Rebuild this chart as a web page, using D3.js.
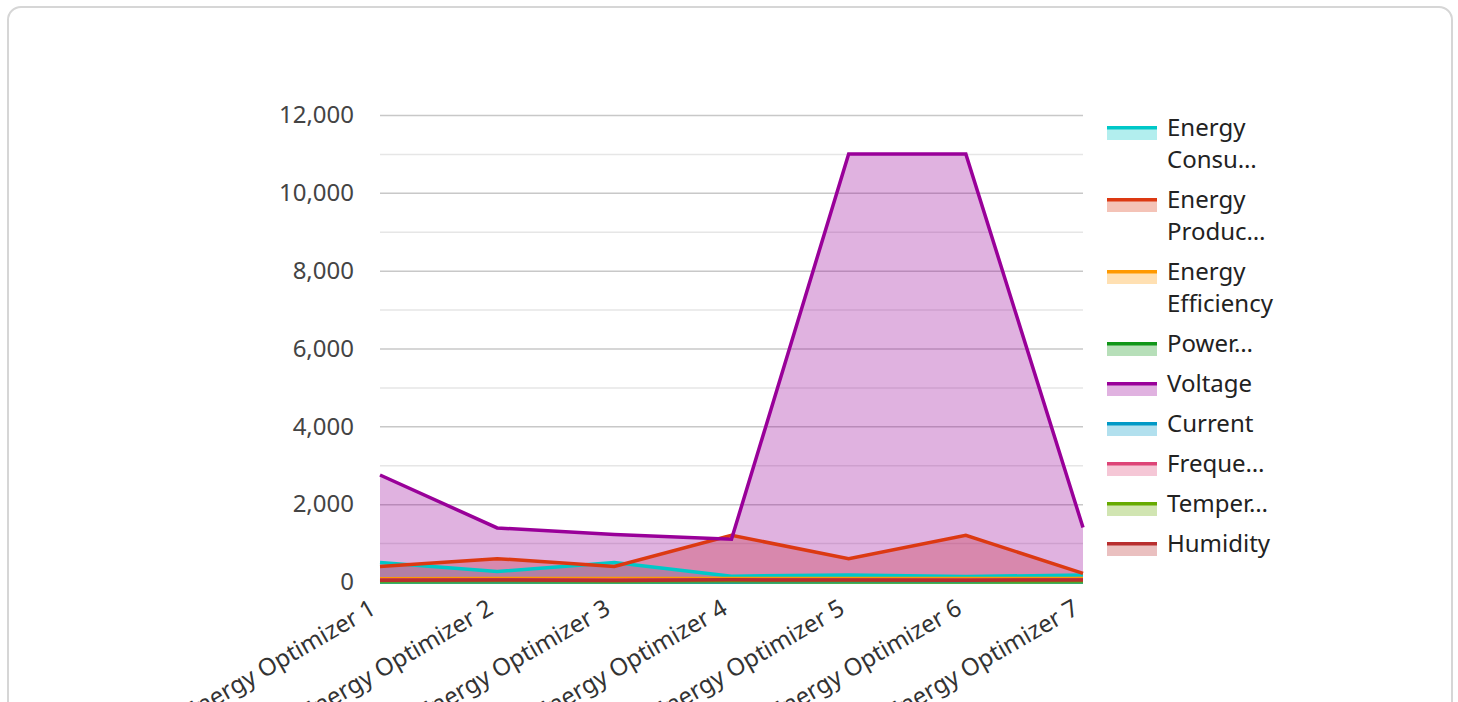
<!DOCTYPE html>
<html>
<head>
<meta charset="utf-8">
<script src="https://cdn.jsdelivr.net/npm/d3@7"></script>
<style>
  html, body { margin: 0; padding: 0; background: #fff; }
  body { width: 1458px; height: 702px; overflow: hidden; position: relative; }
  .card {
    position: absolute; left: 7px; top: 6px; width: 1446px; height: 720px;
    border: 2px solid #d6d6d6; border-radius: 14px; box-sizing: border-box;
  }
  svg { position: absolute; left: 0; top: 0; font-family: "Noto Sans", sans-serif; }
</style>
</head>
<body>
<div class="card"></div>
<svg id="chart" width="1458" height="702"></svg>
<script>
// Energy optimizer readings, one value per device
const categories = ["Energy Optimizer 1", "Energy Optimizer 2", "Energy Optimizer 3",
    "Energy Optimizer 4", "Energy Optimizer 5", "Energy Optimizer 6", "Energy Optimizer 7"];

const energyConsumption = [500, 270, 500, 150, 180, 140, 180];
const energyProduction  = [400, 600, 400, 1200, 600, 1200, 220];
const energyEfficiency  = [85, 90, 88, 92, 87, 91, 89];
const powerFactor       = [0.95, 0.92, 0.9, 0.96, 0.94, 0.93, 0.95];
const voltage           = [2750, 1390, 1220, 1100, 11000, 11000, 1400];
const current           = [12, 10, 15, 9, 20, 22, 11];
const frequency         = [50, 60, 50, 60, 50, 50, 60];
const temperature       = [25, 30, 28, 32, 35, 30, 27];
const humidity          = [45, 50, 40, 55, 50, 48, 52];

const seriesNames = ["Energy Consumption", "Energy Production", "Energy Efficiency",
    "Power Factor", "Voltage", "Current", "Frequency", "Temperature", "Humidity"];
const legendLines = [["Energy", "Consu…"], ["Energy", "Produc…"], ["Energy", "Efficiency"],
    ["Power…"], ["Voltage"], ["Current"], ["Freque…"], ["Temper…"], ["Humidity"]];
const colors = ["#00c8c8", "#dc3912", "#ff9900", "#109618", "#990099",
    "#0099c6", "#dd4477", "#66aa00", "#b82e2e"];
const yTicks = [0, 2000, 4000, 6000, 8000, 10000, 12000];

const seriesValues = [energyConsumption, energyProduction, energyEfficiency, powerFactor,
    voltage, current, frequency, temperature, humidity];

const series = seriesNames.map((name, i) => ({
    name: name,
    color: colors[i],
    legend: legendLines[i],
    values: seriesValues[i].map((v, j) => ({cat: categories[j], value: v}))
}));

const svg = d3.select("#chart");

// plot area
const margin = {left: 380, right: 1083, top: 115, bottom: 582};

const x = d3.scalePoint()
    .domain(categories)
    .range([margin.left, margin.right]);

const y = d3.scaleLinear()
    .domain([0, 12000])
    .range([margin.bottom, margin.top]);

// gridlines, minor every 1000 and major every 2000
const grid = svg.append("g");
grid.selectAll("line")
    .data(d3.range(1000, 12001, 1000))
    .enter()
    .append("line")
    .attr("x1", margin.left)
    .attr("x2", margin.right)
    .attr("y1", d => y(d) + 0.5)
    .attr("y2", d => y(d) + 0.5)
    .attr("stroke", d => d % 2000 === 0 ? "#c8c8c8" : "#e6e6e6")
    .attr("stroke-width", 1.5);

// Y axis labels
const yAxis = svg.append("g")
    .attr("transform", `translate(${margin.left - 26},0)`)
    .call(d3.axisLeft(y).tickValues(yTicks).tickSize(0).tickPadding(0).tickFormat(d3.format(",")));
yAxis.select(".domain").remove();
yAxis.selectAll("text")
    .attr("font-family", "Noto Sans, sans-serif")
    .attr("font-size", "24px")
    .attr("fill", "#444");

// areas first, then lines on top
const area = d3.area()
    .x(d => x(d.cat))
    .y0(y(0))
    .y1(d => y(d.value));

const line = d3.line()
    .x(d => x(d.cat))
    .y(d => y(d.value));

svg.append("g").selectAll("path")
    .data(series)
    .enter()
    .append("path")
    .attr("d", d => area(d.values))
    .attr("fill", d => d.color)
    .attr("fill-opacity", 0.3);

svg.append("g").selectAll("path")
    .data(series)
    .enter()
    .append("path")
    .attr("d", d => line(d.values))
    .attr("fill", "none")
    .attr("stroke", d => d.color)
    .attr("stroke-width", 3.5)
    .attr("stroke-linejoin", "miter");

// X axis labels, rotated
const xAxis = svg.append("g")
    .attr("transform", `translate(0,${margin.bottom})`)
    .call(d3.axisBottom(x).tickSize(0).tickPadding(0));
xAxis.select(".domain").remove();
xAxis.selectAll("text")
    .attr("font-family", "Noto Sans, sans-serif")
    .attr("font-size", "24px")
    .attr("fill", "#333")
    .attr("text-anchor", "end")
    .attr("dy", 0)
    .attr("y", 0)
    .attr("transform", "translate(-3,31) rotate(-30)");

// legend
const legend = svg.append("g");
let ly = 128;
series.forEach(s => {
    const g = legend.append("g");
    g.append("rect")
        .attr("x", 1107)
        .attr("y", ly - 2)
        .attr("width", 50)
        .attr("height", 14)
        .attr("fill", s.color)
        .attr("fill-opacity", 0.3);
    g.append("rect")
        .attr("x", 1107)
        .attr("y", ly - 2)
        .attr("width", 50)
        .attr("height", 3.5)
        .attr("fill", s.color);
    s.legend.forEach((t, k) => {
        g.append("text")
            .attr("x", 1167)
            .attr("y", ly + k * 32)
            .attr("dy", "0.35em")
            .attr("font-size", "24px")
            .attr("fill", "#222")
            .text(t);
    });
    ly += 40 + (s.legend.length - 1) * 32;
});
</script>
</body>
</html>
